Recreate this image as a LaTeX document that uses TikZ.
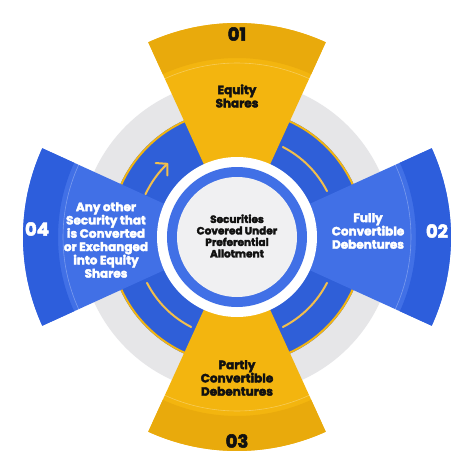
\documentclass[tikz,border=0pt]{standalone}
\usepackage{fontspec}
\setmainfont{Poppins}[BoldFeatures={FakeBold=3}]
\usepackage{tikz}
\usetikzlibrary{arrows.meta}
\definecolor{gold}{HTML}{F3B50F}
\definecolor{golddark}{HTML}{E9AA0C}
\definecolor{royal}{HTML}{4170E6}
\definecolor{royaldark}{HTML}{2D5EDC}
\definecolor{ringblue}{HTML}{2F5FD8}
\definecolor{ringgray}{HTML}{E6E6E8}
\definecolor{core}{HTML}{F0F0F2}
\definecolor{arcgold}{HTML}{F2BF4C}
\definecolor{ink}{HTML}{111111}
\tikzset{
  lbl/.style={font=\bfseries\fontsize{12}{13.3}\selectfont, align=center},
  num/.style={font=\bfseries\fontsize{18}{18}\selectfont},
  track/.style={arcgold, line width=2pt, line cap=round},
}

\begin{document}
\begin{tikzpicture}[x=1pt,y=1pt]
      \fill[white] (-237,-237) rectangle (237,237);
      \useasboundingbox (-237,-237) rectangle (237,237);
      \fill[ringgray] (0,0) circle[radius=157];
      \fill[ringblue] (0,0) circle[radius=128];
      \draw[gold, line width=2pt] (0,0) circle[radius=127];
      \draw[track] (27:101) arc[start angle=27, end angle=63, radius=101];
      \draw[track] (-27:101) arc[start angle=-27, end angle=-63, radius=101];
      \draw[track] (207:101) arc[start angle=207, end angle=243, radius=101];
      \draw[track, -{Straight Barb[length=8pt,width=17pt,round]}] (155:101) coordinate (tail)
        arc[start angle=155, end angle=133, radius=101] coordinate (head);
      \foreach \a/\c/\d in {90/gold/golddark, 0/royal/royaldark, -90/gold/golddark, 180/royal/royaldark} {
        \fill[\c] (0,0) -- (\a-24.5:214) arc[start angle=\a-24.5, end angle=\a+24.5, radius=214] -- cycle;
        \fill[\d] (\a-24.5:179) arc[start angle=\a-24.5, end angle=\a+24.5, radius=179]
          -- (\a+24.5:214) arc[start angle=\a+24.5, end angle=\a-24.5, radius=214] -- cycle;
        \draw[white, opacity=.3, line width=.6pt] (\a-24.5:174) arc[start angle=\a-24.5, end angle=\a+24.5, radius=174];
      }
      \fill[white] (0,0) circle[radius=80];
      \fill[royal] (0,0) circle[radius=70];
      \fill[core] (0,0) circle[radius=60];
      \node[lbl, ink, font=\bfseries\fontsize{10.5}{11.5}\selectfont] (hub) at (0,1) {Securities\\Covered Under\\Preferential\\Allotment};
      \node[lbl, ink] (equity) at (0,141) {Equity\\Shares};
      \node[lbl, white] (fully) at (131,6) {Fully\\Convertible\\Debentures};
      \node[lbl, ink] (partly) at (0,-141) {Partly\\Convertible\\Debentures};
      \node[lbl, white] (other) at (-131,-3) {Any other\\Security that\\is Converted\\or Exchanged\\into Equity\\Shares};
      \node[num, ink] (n1) at (0,203) {01};
      \node[num, white] (n2) at (200,6) {02};
      \node[num, ink] (n3) at (0,-204) {03};
      \node[num, white] (n4) at (-200,8) {04};
    \end{tikzpicture}
\end{document}
